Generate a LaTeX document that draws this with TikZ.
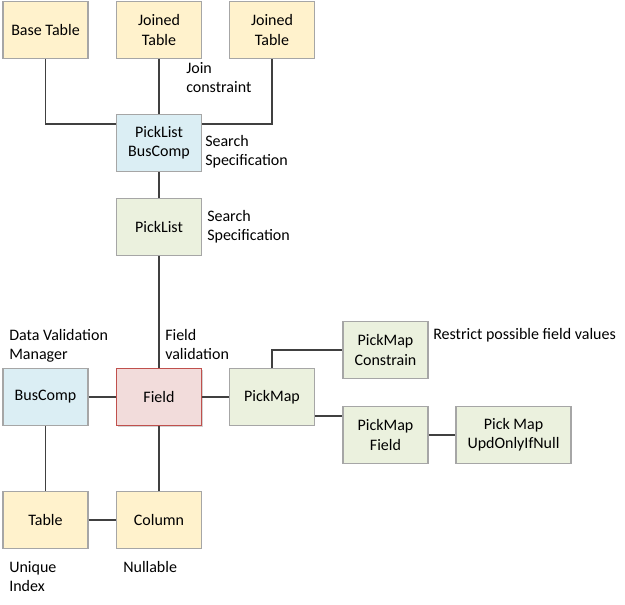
\documentclass[tikz,border=0pt]{standalone}
\usepackage{fontspec}
\setmainfont{Carlito}
\usetikzlibrary{shadows}
\definecolor{tabfill}{HTML}{FFF2CC}
\definecolor{bcfill}{HTML}{DBEEF4}
\definecolor{pmfill}{HTML}{EBF1DE}
\definecolor{fldfill}{HTML}{F2DCDB}
\definecolor{fldline}{HTML}{C0504D}
\definecolor{boxline}{HTML}{A6A6A6}
\tikzset{
	box/.style={draw=boxline, line width=0.9pt, minimum width=63.75pt, minimum height=42.75pt, align=center, font=\fontsize{12}{14.4}\selectfont, inner sep=1pt},
	tab/.style={box, fill=tabfill},
	bc/.style={box, fill=bcfill},
	pm/.style={box, fill=pmfill},
	fld/.style={box, fill=fldfill, draw=fldline, drop shadow={shadow xshift=1.2pt, shadow yshift=-1.2pt, opacity=0.35}},
	note/.style={anchor=north west, align=left, inner sep=0pt, font=\fontsize{12}{14.4}\selectfont},
	link/.style={draw=black!75, line width=0.8pt}
}
\begin{document}
\begin{tikzpicture}[x=0.75pt, y=-0.75pt]
%	\draw [help lines] (0,0) grid (625,604);
	\useasboundingbox (0,0) rectangle (625,604);
	% tables on top
	\node [tab] (base) at (45.5,30) {Base Table};
	\node [tab] (joina) at (159,30) {Joined\\Table};
	\node [tab] (joinb) at (272,30) {Joined\\Table};
	\node [bc] (plbc) at (159,143) {PickList\\BusComp};
	\node [pm] (plist) at (159,227) {PickList};
	% middle row
	\node [bc] (buscomp) at (45.5,397) {BusComp};
	\node [fld] (field) at (159,397) {Field};
	\node [pm] (pmap) at (272,397) {PickMap};
	\node [pm] (pmcons) at (385.5,350) {PickMap\\Constrain};
	\node [pm] (pmfield) at (385.5,435) {PickMap\\Field};
	\node [pm, minimum width=86.25pt] (pmupd) at (513.5,435) {Pick Map\\UpdOnlyIfNull};
	% bottom row
	\node [tab] (table) at (45.5,520) {Table};
	\node [tab] (column) at (159,520) {Column};

	\draw [link] (base.south) |- (plbc.west |- 0,124);
	\draw [link] (joina.south) -- (plbc.north);
	\draw [link] (joinb.south) |- (plbc.east |- 0,124);
	\draw [link] (plbc) -- (plist);
	\draw [link] (plist) -- (field);
	\draw [link] (buscomp) -- (field);
	\draw [link] (field) -- (pmap);
	\draw [link] (buscomp) -- (table);
	\draw [link] (field) -- (column);
	\draw [link] (table) -- (column);
	\draw [link] (pmap.north) |- (pmcons.west);
	\draw [link] (pmap.east |- 0,416) -- (pmfield.west |- 0,416);
	\draw [link] (pmfield) -- (pmupd);

	\node [note] (njoin) at (186,62) {Join\\constraint};
	\node [note] (nsearcha) at (205,135) {Search\\Specification};
	\node [note] (nsearchb) at (207,210) {Search\\Specification};
	\node [note] (ndvm) at (9,329) {Data Validation\\Manager};
	\node [note] (nfval) at (165,329) {Field\\validation};
	\node [note] (nrestr) at (433,328) {Restrict possible field values};
	\node [note] (nuniq) at (9,561) {Unique\\Index};
	\node [note] (nnull) at (123,561) {Nullable};
\end{tikzpicture}
\end{document}
